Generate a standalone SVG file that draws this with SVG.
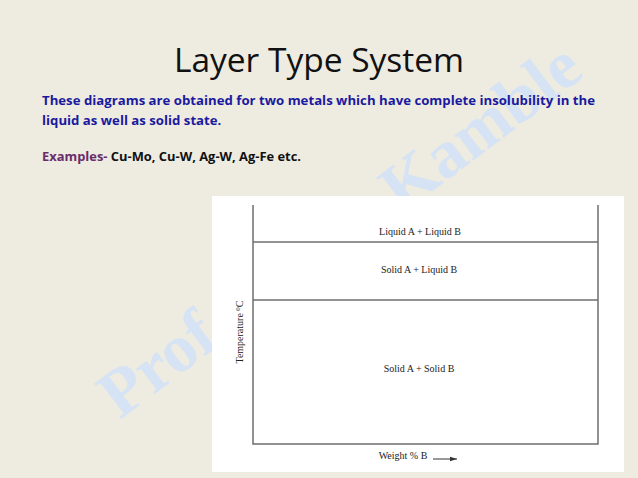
<svg xmlns="http://www.w3.org/2000/svg" width="638" height="478" viewBox="0 0 638 478">
<style>
.wm{font-family:"Liberation Serif",serif;font-weight:bold;font-size:68px;fill:#d5e3f4}
.body{font-family:"Open Sans","Liberation Sans",sans-serif;font-weight:bold;font-size:13.2px}
.lbl{font-family:"Liberation Serif",serif;font-size:10px;fill:#222}
.ax{stroke:#6e6e6e;stroke-width:1.5;fill:none}
</style>
<defs>
<marker id="ah" markerWidth="8" markerHeight="6" refX="7" refY="3" orient="auto" markerUnits="userSpaceOnUse">
<path d="M0,0.8 L7,3 L0,5.2 Z" fill="#333"/>
</marker>
</defs>
<rect width="638" height="478" fill="#eeebe1"/>
<g id="watermark">
<text class="wm" transform="translate(120,420) rotate(-37)">Prof</text>
<text class="wm" transform="translate(402,214) rotate(-37)">Kamble</text>
</g>
<g id="title">
<text x="319" y="72" text-anchor="middle" font-family="'Open Sans','Liberation Sans',sans-serif" font-size="33.5" fill="#111">Layer Type System</text>
</g>
<g id="description">
<text class="body" fill="#1a1a9e"><tspan x="42" y="105" textLength="553" lengthAdjust="spacingAndGlyphs">These diagrams are obtained for two metals which have complete insolubility in the</tspan><tspan x="42" y="125">liquid as well as solid state.</tspan></text>
<text class="body" x="42" y="161" textLength="259" lengthAdjust="spacingAndGlyphs"><tspan fill="#6a2c6a">Examples-</tspan><tspan fill="#111"> Cu-Mo, Cu-W, Ag-W, Ag-Fe etc.</tspan></text>
</g>
<g id="chart">
<rect x="212" y="196" width="412" height="276" fill="#ffffff"/>
<g id="connectors">
<path class="ax" d="M253,205 V444 H598 V205"/>
<line class="ax" x1="253" y1="242" x2="598" y2="242"/>
<line class="ax" x1="253" y1="300" x2="598" y2="300"/>
<line x1="433" y1="459" x2="457" y2="459" stroke="#333" stroke-width="1" marker-end="url(#ah)"/>
</g>
<g id="region-liquid-liquid"><text class="lbl" x="420" y="235" text-anchor="middle">Liquid A + Liquid B</text></g>
<g id="region-solid-liquid"><text class="lbl" x="419" y="273" text-anchor="middle">Solid A + Liquid B</text></g>
<g id="region-solid-solid"><text class="lbl" x="419" y="372" text-anchor="middle">Solid A + Solid B</text></g>
<g id="x-axis-label"><text class="lbl" x="403" y="459" text-anchor="middle">Weight % B</text></g>
<g id="y-axis-label"><text class="lbl" transform="translate(243,332) rotate(-90)" text-anchor="middle">Temperature <tspan dy="-3" font-size="7">0</tspan><tspan dy="3">C</tspan></text></g>
</g>
</svg>
